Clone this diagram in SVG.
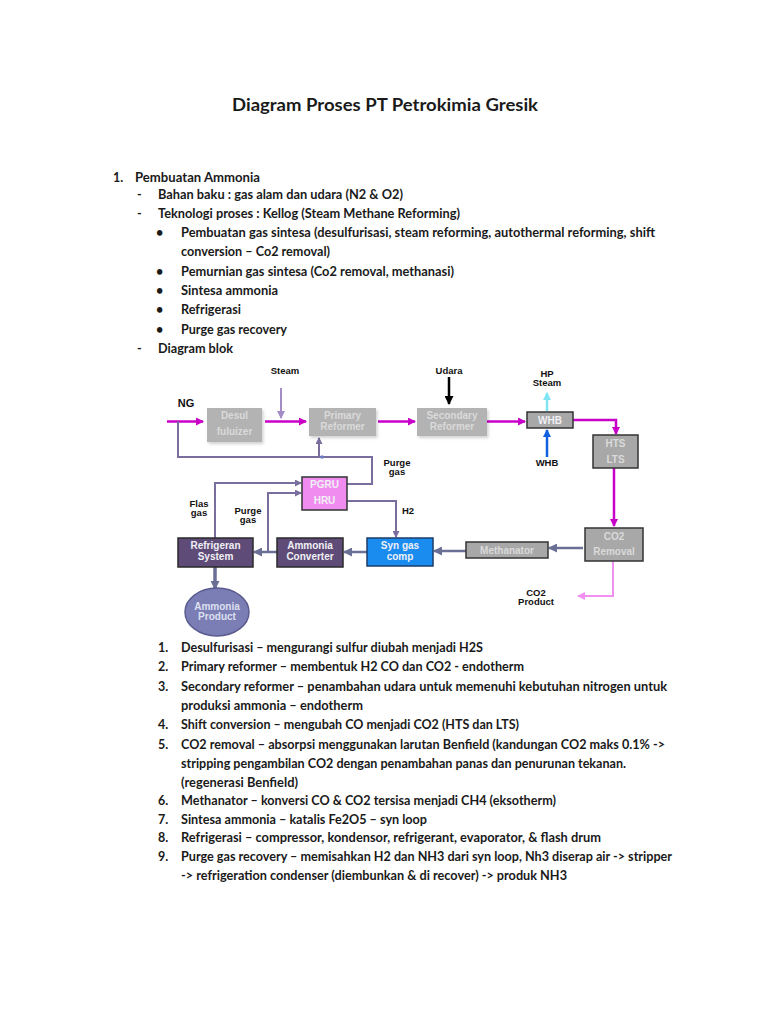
<svg xmlns="http://www.w3.org/2000/svg" width="768" height="1024" viewBox="0 0 768 1024">
<style>
.doc{font-family:Lato,"Open Sans","Noto Sans",sans-serif;font-size:12.5px;font-weight:bold;fill:#1a1a1a}
.title{font-family:Lato,"Open Sans","Noto Sans",sans-serif;font-size:16.5px;font-weight:bold;fill:#1a1a1a}
.lbl{font-family:"Liberation Sans",Arial,sans-serif;font-weight:bold;font-size:9.5px;fill:#111;text-anchor:middle}
.nt{font-family:"Liberation Sans",Arial,sans-serif;font-weight:bold;font-size:10px;text-anchor:middle}
.g{fill:#b3b3b3}
.gb{fill:#a8a8a8;stroke:#333;stroke-width:1.5}
.pu{fill:#5f4b78;stroke:#2a2a2a;stroke-width:1.5}
.lt{fill:#dadada}
.wt{fill:#f0f0f5}
.mag{fill:none;stroke:#c800c8;stroke-width:2.5}
.rec{fill:none;stroke:#7a6e9e;stroke-width:2}
.sl{fill:none;stroke:#6a6f96;stroke-width:2.5}
</style>
<defs>
<filter id="sh" x="-20%" y="-20%" width="140%" height="150%"><feDropShadow dx="1.5" dy="2" stdDeviation="1.5" flood-color="#000" flood-opacity="0.18"/></filter>
<marker id="aMag" markerWidth="8" markerHeight="8" refX="7" refY="4" orient="auto" markerUnits="userSpaceOnUse"><path d="M0,0 L8,4 L0,8 z" fill="#c800c8"/></marker>
<marker id="aRec" markerWidth="7" markerHeight="7" refX="6" refY="3.5" orient="auto" markerUnits="userSpaceOnUse"><path d="M0,0 L7,3.5 L0,7 z" fill="#7a6e9e"/></marker>
<marker id="aSl" markerWidth="9" markerHeight="9" refX="8" refY="4.5" orient="auto" markerUnits="userSpaceOnUse"><path d="M0,0 L9,4.5 L0,9 z" fill="#6a6f96"/></marker>
<marker id="aStm" markerWidth="8" markerHeight="8" refX="7" refY="4" orient="auto" markerUnits="userSpaceOnUse"><path d="M0,0 L8,4 L0,8 z" fill="#a48cc8"/></marker>
<marker id="aBlk" markerWidth="9" markerHeight="9" refX="8" refY="4.5" orient="auto" markerUnits="userSpaceOnUse"><path d="M0,0 L9,4.5 L0,9 z" fill="#000"/></marker>
<marker id="aCy" markerWidth="8" markerHeight="8" refX="7" refY="4" orient="auto" markerUnits="userSpaceOnUse"><path d="M0,0 L8,4 L0,8 z" fill="#80e4f4"/></marker>
<marker id="aBl" markerWidth="8" markerHeight="8" refX="7" refY="4" orient="auto" markerUnits="userSpaceOnUse"><path d="M0,0 L8,4 L0,8 z" fill="#1060e0"/></marker>
<marker id="aPk" markerWidth="8" markerHeight="8" refX="7" refY="4" orient="auto" markerUnits="userSpaceOnUse"><path d="M0,0 L8,4 L0,8 z" fill="#f090f0"/></marker>
</defs>
<rect width="768" height="1024" fill="#fff"/>

<g id="text-top">
<text class="title" x="232" y="111" textLength="306" lengthAdjust="spacingAndGlyphs">Diagram Proses PT Petrokimia Gresik</text>
<text class="doc" x="113" y="182">1.</text>
<text class="doc" x="135" y="182" textLength="125" lengthAdjust="spacingAndGlyphs">Pembuatan Ammonia</text>
<text class="doc" x="137" y="199">-</text>
<text class="doc" x="158" y="199" textLength="245" lengthAdjust="spacingAndGlyphs">Bahan baku : gas alam dan udara (N2 &amp; O2)</text>
<text class="doc" x="137" y="218">-</text>
<text class="doc" x="158" y="218" textLength="302" lengthAdjust="spacingAndGlyphs">Teknologi proses : Kellog (Steam Methane Reforming)</text>
<text class="doc" x="156" y="237">•</text>
<text class="doc" x="181" y="237" textLength="474" lengthAdjust="spacingAndGlyphs">Pembuatan gas sintesa (desulfurisasi, steam reforming, autothermal reforming, shift</text>
<text class="doc" x="181" y="256" textLength="149" lengthAdjust="spacingAndGlyphs">conversion – Co2 removal)</text>
<text class="doc" x="156" y="276">•</text>
<text class="doc" x="181" y="276" textLength="273" lengthAdjust="spacingAndGlyphs">Pemurnian gas sintesa (Co2 removal, methanasi)</text>
<text class="doc" x="156" y="295">•</text>
<text class="doc" x="181" y="295" textLength="97" lengthAdjust="spacingAndGlyphs">Sintesa ammonia</text>
<text class="doc" x="156" y="314">•</text>
<text class="doc" x="181" y="314" textLength="60" lengthAdjust="spacingAndGlyphs">Refrigerasi</text>
<text class="doc" x="156" y="334">•</text>
<text class="doc" x="181" y="334" textLength="106" lengthAdjust="spacingAndGlyphs">Purge gas recovery</text>
<text class="doc" x="137" y="353">-</text>
<text class="doc" x="158" y="353" textLength="75" lengthAdjust="spacingAndGlyphs">Diagram blok</text>
</g>

<g id="connectors">
<line class="mag" x1="167" y1="421.5" x2="203" y2="421.5" marker-end="url(#aMag)"/>
<line class="mag" x1="265" y1="421.5" x2="306" y2="421.5" marker-end="url(#aMag)"/>
<line class="mag" x1="378" y1="421.5" x2="415" y2="421.5" marker-end="url(#aMag)"/>
<line class="mag" x1="487" y1="421.5" x2="525" y2="421.5" marker-end="url(#aMag)"/>
<path class="mag" d="M573,420 H616 V434" marker-end="url(#aMag)"/>
<path class="mag" d="M614,468 V526" marker-end="url(#aMag)"/>
<line x1="281" y1="388" x2="281" y2="418" stroke="#a48cc8" stroke-width="2" marker-end="url(#aStm)"/>
<line x1="449" y1="377" x2="449" y2="404" stroke="#000" stroke-width="2.5" marker-end="url(#aBlk)"/>
<line x1="547" y1="411" x2="547" y2="393" stroke="#80e4f4" stroke-width="2.5" marker-end="url(#aCy)"/>
<line x1="547" y1="457" x2="547" y2="430" stroke="#1060e0" stroke-width="2.5" marker-end="url(#aBl)"/>
<path class="rec" d="M178,421.5 V457 H319 V438" marker-end="url(#aRec)"/>
<path class="rec" d="M347,484 H372 V457 H319"/>
<circle cx="322" cy="457" r="1.8" fill="#6b7ec8"/>
<path class="rec" d="M347,501 H396 V537" marker-end="url(#aRec)"/>
<path class="rec" d="M215,538 V483 H301" marker-end="url(#aRec)"/>
<path class="rec" d="M268,552 V493 H301" marker-end="url(#aRec)"/>
<path class="sl" d="M583,548 H549" marker-end="url(#aSl)"/>
<path class="sl" d="M466,551 H434" marker-end="url(#aSl)"/>
<path class="sl" d="M367,552 H344" marker-end="url(#aSl)"/>
<path class="sl" d="M277,552 H254" marker-end="url(#aSl)"/>
<path d="M215,567 V589" fill="none" stroke="#6a6f96" stroke-width="3.5" marker-end="url(#aSl)"/>
<path d="M613,561 V596 H578" fill="none" stroke="#f090f0" stroke-width="2" marker-end="url(#aPk)"/>
</g>

<g id="labels">
<text class="lbl" x="285" y="374">Steam</text>
<text class="lbl" x="186" y="407" style="font-size:11px">NG</text>
<text class="lbl" x="449" y="374">Udara</text>
<text class="lbl" x="547" y="377">HP</text>
<text class="lbl" x="547" y="386">Steam</text>
<text class="lbl" x="547" y="466">WHB</text>
<text class="lbl" x="397" y="466">Purge</text>
<text class="lbl" x="397" y="475">gas</text>
<text class="lbl" x="408" y="514">H2</text>
<text class="lbl" x="199" y="507">Flas</text>
<text class="lbl" x="199" y="516">gas</text>
<text class="lbl" x="248" y="514">Purge</text>
<text class="lbl" x="248" y="523">gas</text>
<text class="lbl" x="536" y="596">CO2</text>
<text class="lbl" x="536" y="605">Product</text>
</g>

<g id="desul"><rect class="g" x="207" y="408" width="55" height="34" filter="url(#sh)"/><text class="nt lt" x="234.5" y="419">Desul</text><text class="nt lt" x="234.5" y="435">fuluizer</text></g>
<g id="primary"><rect class="g" x="309" y="408" width="67" height="28" filter="url(#sh)"/><text class="nt lt" x="342.5" y="419">Primary</text><text class="nt lt" x="342.5" y="430">Reformer</text></g>
<g id="secondary"><rect class="g" x="417" y="408" width="70" height="28" filter="url(#sh)"/><text class="nt lt" x="452" y="419">Secondary</text><text class="nt lt" x="452" y="430">Reformer</text></g>
<g id="whb"><rect class="gb" x="527" y="412" width="46" height="16"/><text class="nt wt" x="550" y="424">WHB</text></g>
<g id="hts"><rect class="gb" x="593" y="435" width="45" height="33"/><text class="nt lt" x="615.5" y="447">HTS</text><text class="nt lt" x="615.5" y="463">LTS</text></g>
<g id="co2removal"><rect class="gb" x="585" y="528" width="58" height="33"/><text class="nt lt" x="614" y="540">CO2</text><text class="nt lt" x="614" y="555">Removal</text></g>
<g id="methanator"><rect class="gb" x="466" y="542" width="82" height="16"/><text class="nt lt" x="507" y="554">Methanator</text></g>
<g id="syngas"><rect x="367" y="538" width="66" height="28" fill="#1a8cf0" stroke="#1d3d6a" stroke-width="1.5"/><text class="nt wt" x="400" y="549">Syn gas</text><text class="nt wt" x="400" y="560">comp</text></g>
<g id="converter"><rect class="pu" x="277" y="538" width="66" height="29"/><text class="nt wt" x="310" y="549">Ammonia</text><text class="nt wt" x="310" y="560">Converter</text></g>
<g id="refrigeran"><rect class="pu" x="178" y="538" width="75" height="29"/><text class="nt wt" x="215.5" y="549">Refrigeran</text><text class="nt wt" x="215.5" y="560">System</text></g>
<g id="pgru"><rect x="302" y="477" width="45" height="33" fill="#f08cf0" stroke="#333" stroke-width="1.5"/><text class="nt wt" x="324.5" y="488">PGRU</text><text class="nt wt" x="324.5" y="504">HRU</text></g>
<g id="product"><ellipse cx="217" cy="612" rx="32" ry="24" fill="#7b7db5" stroke="#5a5c90" stroke-width="1.5"/><text class="nt" x="217" y="610" fill="#dde0f0">Ammonia</text><text class="nt" x="217" y="620" fill="#dde0f0">Product</text></g>

<g id="text-bottom">
<text class="doc" x="158" y="652">1.</text>
<text class="doc" x="181" y="652" textLength="302" lengthAdjust="spacingAndGlyphs">Desulfurisasi – mengurangi sulfur diubah menjadi H2S</text>
<text class="doc" x="158" y="671">2.</text>
<text class="doc" x="181" y="671" textLength="343" lengthAdjust="spacingAndGlyphs">Primary reformer – membentuk H2 CO dan CO2 - endotherm</text>
<text class="doc" x="158" y="691">3.</text>
<text class="doc" x="181" y="691" textLength="486" lengthAdjust="spacingAndGlyphs">Secondary reformer – penambahan udara untuk memenuhi kebutuhan nitrogen untuk</text>
<text class="doc" x="181" y="710" textLength="182" lengthAdjust="spacingAndGlyphs">produksi ammonia – endotherm</text>
<text class="doc" x="158" y="729">4.</text>
<text class="doc" x="181" y="729" textLength="338" lengthAdjust="spacingAndGlyphs">Shift conversion – mengubah CO menjadi CO2 (HTS dan LTS)</text>
<text class="doc" x="158" y="749">5.</text>
<text class="doc" x="181" y="749" textLength="484" lengthAdjust="spacingAndGlyphs">CO2 removal – absorpsi menggunakan larutan Benfield (kandungan CO2 maks 0.1% -&gt;</text>
<text class="doc" x="181" y="768" textLength="445" lengthAdjust="spacingAndGlyphs">stripping pengambilan CO2 dengan penambahan panas dan penurunan tekanan.</text>
<text class="doc" x="181" y="787" textLength="117" lengthAdjust="spacingAndGlyphs">(regenerasi Benfield)</text>
<text class="doc" x="158" y="805">6.</text>
<text class="doc" x="181" y="805" textLength="375" lengthAdjust="spacingAndGlyphs">Methanator – konversi CO &amp; CO2 tersisa menjadi CH4 (eksotherm)</text>
<text class="doc" x="158" y="824">7.</text>
<text class="doc" x="181" y="824" textLength="246" lengthAdjust="spacingAndGlyphs">Sintesa ammonia – katalis Fe2O5 – syn loop</text>
<text class="doc" x="158" y="842">8.</text>
<text class="doc" x="181" y="842" textLength="420" lengthAdjust="spacingAndGlyphs">Refrigerasi – compressor, kondensor, refrigerant, evaporator, &amp; flash drum</text>
<text class="doc" x="158" y="861">9.</text>
<text class="doc" x="181" y="861" textLength="491" lengthAdjust="spacingAndGlyphs">Purge gas recovery – memisahkan H2 dan NH3 dari syn loop, Nh3 diserap air -&gt; stripper</text>
<text class="doc" x="181" y="880" textLength="386" lengthAdjust="spacingAndGlyphs">-&gt; refrigeration condenser (diembunkan &amp; di recover) -&gt; produk NH3</text>
</g>
</svg>
